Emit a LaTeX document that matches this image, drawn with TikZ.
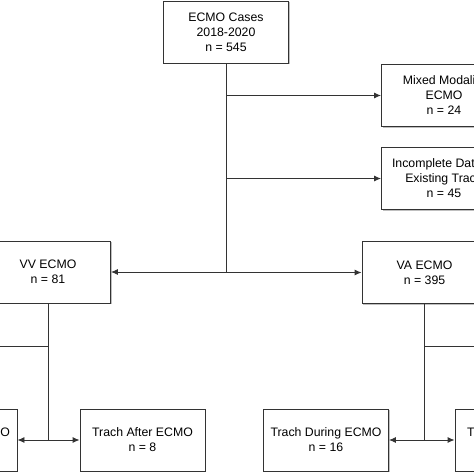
\documentclass[tikz,border=0pt]{standalone}
\usepackage{fontspec}
\setmainfont{Liberation Sans}
\usetikzlibrary{arrows.meta,shadows}

\tikzset{
  box/.style={draw=black!80, line width=0.9pt, fill=white,
    minimum width=125pt, minimum height=62pt, align=center,
    font=\fontsize{12.3}{15}\selectfont,
    drop shadow={shadow xshift=1.2pt, shadow yshift=-1.2pt, fill=black!25, opacity=1}},
  link/.style={draw=black!80, line width=0.9pt},
  tip/.style={-{Latex[length=7pt,width=6pt]}}
}

\begin{document}
\begin{tikzpicture}[x=1pt, y=-1pt]
        \useasboundingbox (0,0) rectangle (474,474);
        \clip (0,0) rectangle (474,474);
        % all cases and the two left out
        \node[box] (cases) at (226,32) {ECMO Cases\\2018-2020\\n = 545};
        \node[box] (mixed) at (444,95.5) {Mixed Modality\\ECMO\\n = 24};
        \node[box] (incomplete) at (444,178.5) {Incomplete Data or\\Existing Trach\\n = 45};
        % the two modes
        \node[box] (vv) at (48,272) {VV ECMO\\n = 81};
        \node[box] (va) at (424.5,272.5) {VA ECMO\\n = 395};
        % trach timing
        \node[box] (vvduring) at (-45.5,440) {Trach During ECMO\\\phantom{n = 00}};
        \node[box] (vvafter) at (142.5,440) {Trach After ECMO\\n = 8};
        \node[box] (vaduring) at (326,440) {Trach During ECMO\\n = 16};
        \node[box] (vaafter) at (517.5,440) {Trach After ECMO\\\phantom{n = 00}};
        \coordinate (vvout) at (-20,346);
        \coordinate (vaout) at (494,346);
        % trunk
        \draw[link] (cases.south) -- (cases.south |- vv.east);
        \draw[link,tip] (cases.south |- mixed.west) -- (mixed.west);
        \draw[link,tip] (cases.south |- incomplete.west) -- (incomplete.west);
        \draw[link,tip] (cases.south |- vv.east) -- (vv.east);
        \draw[link,tip] (cases.south |- va.west) -- (va.west);
        % left hand
        \draw[link] (vv.south) -- (vv.south |- vvafter.west);
        \draw[link] (vv.south |- vvout) -- (vvout);
        \draw[link,{Latex[length=7pt,width=6pt]}-{Latex[length=7pt,width=6pt]}] (vvduring.east) -- (vvafter.west);
        % right hand
        \draw[link] (va.south) -- (va.south |- vaafter.west);
        \draw[link] (va.south |- vaout) -- (vaout);
        \draw[link,{Latex[length=7pt,width=6pt]}-{Latex[length=7pt,width=6pt]}] (vaduring.east) -- (vaafter.west);
    \end{tikzpicture}
\end{document}
